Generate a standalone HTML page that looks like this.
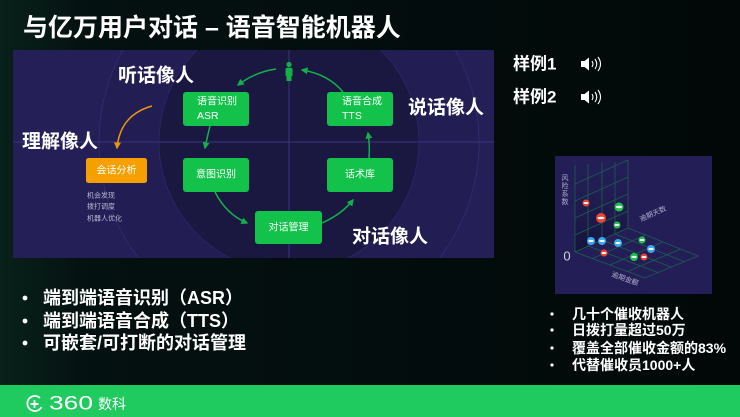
<!DOCTYPE html>
<html><head><meta charset="utf-8"><style>
html,body{margin:0;padding:0;width:740px;height:417px;overflow:hidden;background:#030a0a;}
svg{display:block;}
text{font-family:"Liberation Sans","Noto Sans CJK SC",sans-serif;}
</style></head><body>
<svg width="740" height="417" viewBox="0 0 740 417" xmlns="http://www.w3.org/2000/svg">
<defs>
<linearGradient id="bg" x1="0" y1="0" x2="1" y2="0">
<stop offset="0" stop-color="#08211a"/><stop offset="0.12" stop-color="#041111"/><stop offset="1" stop-color="#020808"/>
</linearGradient>
<clipPath id="pc"><rect x="13" y="50" width="481" height="208"/></clipPath>
<marker id="ag" viewBox="0 0 10 10" refX="8" refY="5" markerWidth="7" markerHeight="7" markerUnits="userSpaceOnUse" orient="auto"><path d="M0,0 L10,5 L0,10 z" fill="#12b14a"/></marker>
<marker id="ao" viewBox="0 0 10 10" refX="8" refY="5" markerWidth="7" markerHeight="7" markerUnits="userSpaceOnUse" orient="auto"><path d="M0,0 L10,5 L0,10 z" fill="#e8980f"/></marker>
<linearGradient id="wall" x1="0" y1="1" x2="0" y2="0"><stop offset="0" stop-color="#15123a"/><stop offset="1" stop-color="#231e55" stop-opacity="0"/></linearGradient>
</defs>
<rect width="740" height="417" fill="url(#bg)"/>
<!-- title -->
<text x="23" y="28" font-size="25" font-weight="bold" fill="#fff" dominant-baseline="central">与亿万用户对话 – 语音智能机器人</text>

<!-- panel -->
<rect x="13" y="50" width="481" height="208" fill="#241f57"/>
<g clip-path="url(#pc)">
<circle cx="289" cy="142" r="190" fill="#221d52" stroke="#302b6a" stroke-width="1"/>
<circle cx="289" cy="142" r="130" fill="#1a1840" stroke="#2a2662" stroke-width="1"/>
<line x1="289" y1="50" x2="289" y2="258" stroke="#3a3582" stroke-width="1"/>
<line x1="13" y1="142" x2="494" y2="142" stroke="#3a3582" stroke-width="1"/>
</g>

<!-- person -->
<circle cx="289" cy="64.5" r="2.6" fill="#12b045"/>
<rect x="285.5" y="67.8" width="7" height="8.5" rx="1.5" fill="#12b045"/>
<rect x="286.5" y="74" width="5" height="7" fill="#12b045"/>

<!-- arrows -->
<g fill="none" stroke="#12b14a" stroke-width="1.5">
<path d="M276,69 Q255,72 238,85" marker-end="url(#ag)"/>
<path d="M343,92 Q328,74 302,70" marker-end="url(#ag)"/>
<path d="M210,126 Q207,138 205,148" marker-end="url(#ag)"/>
<path d="M215,192 Q226,214 247,223" marker-end="url(#ag)"/>
<path d="M322,223 Q342,214 353,200" marker-end="url(#ag)"/>
<path d="M369,158 Q370,145 368,133" marker-end="url(#ag)"/>
</g>
<path d="M152,106 Q120,115 117,148" fill="none" stroke="#e8980f" stroke-width="1.5" marker-end="url(#ao)"/>

<!-- boxes -->
<g fill="#12c24a">
<rect x="183" y="92" width="66" height="34" rx="3"/>
<rect x="183" y="158" width="66" height="34" rx="3"/>
<rect x="255" y="211" width="67" height="33" rx="3"/>
<rect x="327" y="158" width="66" height="34" rx="3"/>
<rect x="327" y="92" width="66" height="34" rx="3"/>
</g>
<rect x="86" y="158" width="61" height="25" rx="2.5" fill="#f6a000"/>
<g fill="#fff" font-size="10" dominant-baseline="central">
<text x="197" y="102">语音识别</text>
<text x="197" y="116" font-size="10.5">ASR</text>
<text x="216" y="175" text-anchor="middle">意图识别</text>
<text x="288.5" y="228" text-anchor="middle">对话管理</text>
<text x="360" y="175" text-anchor="middle">话术库</text>
<text x="342" y="102">语音合成</text>
<text x="342" y="116" font-size="10.5">TTS</text>
<text x="116.5" y="171" text-anchor="middle">会话分析</text>
</g>
<g fill="#b9b8d2" font-size="7" dominant-baseline="central">
<text x="87" y="196">机会发现</text>
<text x="87" y="207">拨打调度</text>
<text x="87" y="219">机器人优化</text>
</g>
<g fill="#fff" font-size="19" font-weight="bold" dominant-baseline="central">
<text x="118" y="76">听话像人</text>
<text x="22" y="142">理解像人</text>
<text x="408" y="108">说话像人</text>
<text x="352" y="237">对话像人</text>
</g>

<!-- samples -->
<g fill="#fff" font-size="17" font-weight="bold" dominant-baseline="central">
<text x="513" y="64">样例1</text>
<text x="513" y="97">样例2</text>
</g>
<g fill="#fff" stroke="none">
<path d="M581,61 L584.5,61 L589,57.5 L589,70.5 L584.5,67 L581,67 z"/>
<path d="M581,94 L584.5,94 L589,90.5 L589,103.5 L584.5,100 L581,100 z"/>
</g>
<g fill="none" stroke="#fff" stroke-width="1.1">
<path d="M592,61 Q594,64 592,67"/><path d="M595,59 Q598.5,64 595,69"/><path d="M598,57 Q603,64 598,71"/>
<path d="M592,94 Q594,97 592,100"/><path d="M595,92 Q598.5,97 595,102"/><path d="M598,90 Q603,97 598,104"/>
</g>

<!-- chart -->
<rect x="555" y="156" width="157" height="138" fill="#231e56"/>
<path d="M575,165 L628,160 L628,228 L575,252 z" fill="url(#wall)"/>
<g stroke="#1c5e50" stroke-width="0.8" fill="none">
<line x1="575" y1="165" x2="575" y2="252"/>
<line x1="588" y1="164" x2="588" y2="246"/>
<line x1="602" y1="163" x2="602" y2="240"/>
<line x1="615" y1="162" x2="615" y2="234"/>
<line x1="628" y1="160" x2="628" y2="228"/>
<line x1="575" y1="235" x2="628" y2="211"/>
<line x1="575" y1="218" x2="628" y2="194"/>
<line x1="575" y1="201" x2="628" y2="177"/>
<line x1="575" y1="184" x2="628" y2="160"/>
<path d="M575,252 L628,228 L698,256 L645,278 z"/>
<line x1="592.5" y1="258.5" x2="645.5" y2="235"/>
<line x1="610" y1="265" x2="663" y2="242"/>
<line x1="627.5" y1="271.5" x2="680.5" y2="249"/>
<line x1="588" y1="246" x2="658" y2="272.5"/>
<line x1="602" y1="240" x2="671" y2="267"/>
<line x1="615" y1="234" x2="684" y2="261.5"/>
</g>
<g fill="#aeb0cc" font-size="7">
<text x="565" y="180" text-anchor="middle">风</text>
<text x="565" y="188" text-anchor="middle">险</text>
<text x="565" y="196" text-anchor="middle">系</text>
<text x="565" y="204" text-anchor="middle">数</text>
<text x="653" y="216" text-anchor="middle" transform="rotate(-24 653 214)">逾期天数</text>
<text x="625" y="281" text-anchor="middle" transform="rotate(20 625 279)">逾期金额</text>
</g>
<text x="567" y="256" font-size="13" fill="#d0d0dc" text-anchor="middle" dominant-baseline="central">0</text>
<g>
<circle cx="586" cy="203" r="3.5" fill="#e8442f"/><ellipse cx="586" cy="203" rx="2.5" ry="1" fill="#fff"/>
<circle cx="619" cy="207" r="4.5" fill="#22c04a"/><ellipse cx="619" cy="207" rx="3.2" ry="1.2" fill="#fff"/>
<circle cx="601" cy="218" r="5" fill="#e8442f"/><ellipse cx="601" cy="218" rx="3.5" ry="1.3" fill="#fff"/>
<circle cx="617" cy="225" r="3.5" fill="#22c04a"/><ellipse cx="617" cy="225" rx="2.5" ry="1" fill="#fff"/>
<circle cx="591" cy="241" r="4" fill="#3aa6f0"/><ellipse cx="591" cy="241" rx="2.8" ry="1.1" fill="#fff"/>
<circle cx="602" cy="241" r="4" fill="#3aa6f0"/><ellipse cx="602" cy="241" rx="2.8" ry="1.1" fill="#fff"/>
<circle cx="618" cy="243" r="4" fill="#3aa6f0"/><ellipse cx="618" cy="243" rx="2.8" ry="1.1" fill="#fff"/>
<circle cx="642" cy="240" r="3.5" fill="#22c04a"/><ellipse cx="642" cy="240" rx="2.5" ry="1" fill="#fff"/>
<circle cx="651" cy="249" r="4" fill="#3aa6f0"/><ellipse cx="651" cy="249" rx="2.8" ry="1.1" fill="#fff"/>
<circle cx="604" cy="253" r="3.5" fill="#e8442f"/><ellipse cx="604" cy="253" rx="2.5" ry="1" fill="#fff"/>
<circle cx="634" cy="257" r="4" fill="#22c04a"/><ellipse cx="634" cy="257" rx="2.8" ry="1.1" fill="#fff"/>
<circle cx="644" cy="257" r="3.5" fill="#e8442f"/><ellipse cx="644" cy="257" rx="2.5" ry="1" fill="#fff"/>
</g>

<!-- right bullets -->
<g fill="#fff">
<circle cx="552" cy="314" r="1.6"/><circle cx="552" cy="330" r="1.6"/><circle cx="552" cy="348" r="1.6"/><circle cx="552" cy="365" r="1.6"/>
</g>
<g fill="#fff" font-size="14" font-weight="bold" dominant-baseline="central">
<text x="572" y="314">几十个催收机器人</text>
<text x="572" y="330">日拨打量超过50万</text>
<text x="572" y="348">覆盖全部催收金额的83%</text>
<text x="572" y="365">代替催收员1000+人</text>
</g>

<!-- left bullets -->
<g fill="#fff">
<circle cx="25" cy="298" r="2.4"/><circle cx="25" cy="321" r="2.4"/><circle cx="25" cy="343" r="2.4"/>
</g>
<g fill="#fff" font-size="18" font-weight="bold" dominant-baseline="central">
<text x="43" y="298">端到端语音识别（ASR）</text>
<text x="43" y="321">端到端语音合成（TTS）</text>
<text x="43" y="343">可嵌套/可打断的对话管理</text>
</g>

<!-- bottom bar -->
<rect x="0" y="385" width="740" height="32" fill="#1fcb5f"/>
<path d="M40,398 A7.5,7.5 0 1 0 41.5,407" fill="none" stroke="#fff" stroke-width="1.8"/>
<line x1="34.5" y1="400" x2="34.5" y2="408" stroke="#fff" stroke-width="1.8"/>
<line x1="30.5" y1="404" x2="38.5" y2="404" stroke="#fff" stroke-width="1.8"/>
<text x="49" y="404" font-size="19" fill="#fff" dominant-baseline="central" textLength="44" lengthAdjust="spacingAndGlyphs">360</text>
<text x="98" y="404" font-size="14" fill="#fff" dominant-baseline="central">数科</text>
</svg>
</body></html>
